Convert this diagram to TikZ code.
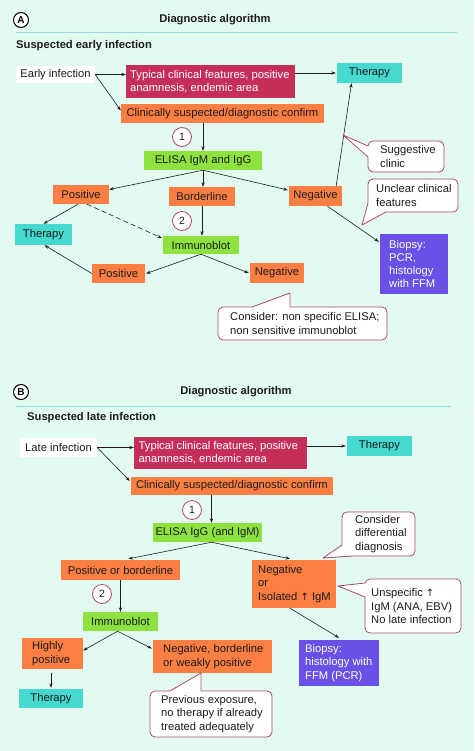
\documentclass[tikz,border=0pt]{standalone}
\usepackage{fontspec}
\setmainfont{Liberation Sans}
\newfontfamily\djv{DejaVu Sans}
\usetikzlibrary{arrows.meta,calc}
\definecolor{bgc}{RGB}{226,250,240}
\definecolor{crim}{RGB}{198,46,90}
\definecolor{orng}{RGB}{251,126,66}
\definecolor{grn}{RGB}{141,226,63}
\definecolor{turq}{RGB}{69,217,207}
\definecolor{purp}{RGB}{106,80,230}
\definecolor{mauve}{RGB}{170,72,112}
\definecolor{tline}{RGB}{150,220,222}
\definecolor{txt}{RGB}{28,28,28}
\newcommand\placebox[7]{\node[#2, minimum width={#5-#3}, minimum height={#6-#4}] (#1) at ({(#3+#5)/2},{(#4+#6)/2}) {#7};}
\newcommand\ctail[5]{%
  \fill[white] #1 -- #2 -- #3 -- #5 -- #4 -- cycle;
  \draw[mauve, line width=0.8pt, line join=round] #1 -- #2 -- #3;}
\begin{document}
\begin{tikzpicture}[x=1pt,y=-1pt,
  font=\fontsize{11.2}{13.3}\selectfont,
  box/.style={rectangle, inner sep=0pt, draw=none, text=txt},
  whbox/.style={box, fill=white},
  crbox/.style={box, fill=crim},
  orbox/.style={box, fill=orng},
  grbox/.style={box, fill=grn},
  tqbox/.style={box, fill=turq},
  pubox/.style={box, fill=purp},
  callout/.style={box, fill=white, draw=mauve, line width=0.8pt, rounded corners=5pt},
  lt/.style={anchor=west, align=left, inner sep=0pt, text=txt},
  numc/.style={circle, draw=mauve, line width=0.8pt, fill=white, inner sep=0pt, minimum size=19pt, font=\fontsize{10.5}{12}\selectfont, text=txt},
  letc/.style={circle, draw=black, line width=1pt, fill=white, inner sep=0pt, minimum size=15pt, font=\bfseries\fontsize{10}{11}\selectfont},
  ttl/.style={font=\bfseries\fontsize{11.2}{13}\selectfont, text=txt, inner sep=0pt},
  arr/.style={-{Stealth[length=4.5pt,width=3.2pt]}, line width=0.6pt, draw=txt},
  tlin/.style={draw=tline, line width=1pt}
]
\useasboundingbox (0,0) rectangle (474,751);
\fill[bgc] (0,0) rectangle (474,751);

% ================= Panel A =================
\node[letc] (circA) at (21,20) {A};
\node[ttl] (titleA) at (215,20) {Diagnostic algorithm};
\draw[tlin] (16,33) -- (457,33);
\node[ttl, anchor=west] (subA) at (16,46) {Suspected early infection};

\placebox{earlyA}{whbox}{16}{66}{95}{83}{Early infection}
\placebox{typA}{crbox}{126}{65}{295}{98}{}
\node[lt, text=white] (typAt) at (130,81.5) {Typical clinical features, positive\\anamnesis, endemic area};
\placebox{therA1}{tqbox}{337}{63}{402}{83}{Therapy}
\placebox{clinA}{orbox}{121}{104}{324}{123}{Clinically suspected/diagnostic confirm}
\node[numc] (c1A) at (182,137) {1};
\placebox{elisaA}{grbox}{144}{151}{262}{170}{ELISA IgM and IgG}
\placebox{posA}{orbox}{53}{185}{109}{204}{Positive}
\placebox{borA}{orbox}{169}{187}{235}{206}{Borderline}
\placebox{negA}{orbox}{289}{186}{342}{206}{Negative}
\placebox{therA2}{tqbox}{15}{224}{72}{245}{Therapy}
\node[numc] (c2A) at (182,221) {2};
\placebox{immA}{grbox}{163}{236}{239}{254}{Immunoblot}
\placebox{pos2A}{orbox}{92}{264}{145}{283}{Positive}
\placebox{neg2A}{orbox}{250}{263}{304}{283}{Negative}
\placebox{bioA}{pubox}{380}{234}{448}{294}{}
\node[lt, text=white] (bioAt) at (389,264) {Biopsy:\\PCR,\\histology\\with FFM};

% arrows A
\draw[arr] (earlyA.east) -- (earlyA.east -| typA.west);
\draw[arr] (earlyA.east) -- ([yshift=3pt]clinA.west);
\draw[arr] (therA1.west -| typA.east) -- ([xshift=-1pt]therA1.west);
\draw[arr] (elisaA.north |- clinA.south) -- (elisaA.north);
\draw[arr] (elisaA.south) -- ([yshift=5pt]posA.east);
\draw[arr] (elisaA.south) -- (elisaA.south |- borA.north);
\draw[arr] (elisaA.south) -- ([yshift=6pt, xshift=-1pt]negA.west);
\draw[arr] ([xshift=-6pt]negA.north east) -- ([xshift=-18pt]therA1.south);
\draw[arr] ([xshift=12pt]negA.south) -- ([yshift=-8pt, xshift=-1pt]bioA.north west);
\draw[arr] ([xshift=-3pt]posA.south) -- (therA2.north);
\draw[arr, dashed, dash pattern=on 5pt off 3pt] ([xshift=6pt]posA.south) -- ([yshift=7pt, xshift=-1pt]immA.west);
\draw[arr] (borA.south) -- (borA.south |- immA.north);
\draw[arr] (immA.south) -- ([xshift=1pt]pos2A.east);
\draw[arr] (immA.south) -- ([xshift=-1pt]neg2A.west);
\draw[arr] (pos2A.west) -- ([xshift=1pt]therA2.south);

% callouts A
\placebox{suggA}{callout}{368}{141}{444}{172}{}
\ctail{(368,146)}{(343,135)}{(368,157)}{(370,146)}{(370,157)}
\node[lt] (suggAt) at (380,156.5) {Suggestive\\clinic};
\placebox{unclA}{callout}{368}{179}{458}{212}{}
\ctail{(368,203)}{(362,225)}{(386,212)}{(370,203)}{(386,210)}
\node[lt] (unclAt) at (376,195.5) {Unclear clinical\\features};
\placebox{consA}{callout}{218}{307}{387}{340}{}
\ctail{(252,307)}{(290,293)}{(290,307)}{(252,309)}{(290,309)}
\node[lt] (consAt) at (230,323.5) {Consider: non specific ELISA;\\non sensitive immunoblot};

% ================= Panel B =================
\node[letc] (circB) at (21,392) {B};
\node[ttl] (titleB) at (236,392) {Diagnostic algorithm};
\draw[tlin] (16,406) -- (451,406);
\node[ttl, anchor=west] (subB) at (27,418) {Suspected late infection};

\placebox{lateB}{whbox}{20}{438}{97}{457}{Late infection}
\placebox{typB}{crbox}{134}{437}{307}{469}{}
\node[lt, text=white] (typBt) at (138.5,453) {Typical clinical features, positive\\anamnesis, endemic area};
\placebox{therB1}{tqbox}{347}{436}{412}{456}{Therapy}
\placebox{clinB}{orbox}{131}{477}{333}{495}{Clinically suspected/diagnostic confirm}
\node[numc] (c1B) at (192,510) {1};
\placebox{elisaB}{grbox}{153}{523}{262}{542}{ELISA IgG (and IgM)}
\placebox{pobB}{orbox}{61}{560}{180}{580}{Positive or borderline}
\placebox{negorB}{orbox}{252}{560}{336}{608}{}
\node[lt] (negorBt) at (258,584) {Negative\\or\\Isolated {\djv\fontsize{10}{12}\selectfont ↑} IgM};
\node[numc] (c2B) at (102,594) {2};
\placebox{immB}{grbox}{83}{612}{158}{631}{Immunoblot}
\placebox{hpB}{orbox}{22}{638}{83}{669}{}
\node[lt] (hpBt) at (32,653.5) {Highly\\positive};
\placebox{therB2}{tqbox}{19}{689}{83}{708}{Therapy}
\placebox{nbwB}{orbox}{153}{640}{272}{673}{}
\node[lt] (nbwBt) at (163,656.5) {Negative, borderline\\or weakly positive};
\placebox{bioB}{pubox}{299}{640}{379}{686}{}
\node[lt, text=white] (bioBt) at (305,663) {Biopsy:\\histology with\\FFM (PCR)};

% arrows B
\coordinate (eBn) at ([xshift=4pt]elisaB.north);
\coordinate (eBs) at ([xshift=4pt]elisaB.south);
\draw[arr] (lateB.east) -- (lateB.east -| typB.west);
\draw[arr] (lateB.east) -- ([yshift=5pt, xshift=-1pt]clinB.west);
\draw[arr] (therB1.west -| typB.east) -- ([xshift=-1pt]therB1.west);
\draw[arr] (eBn |- clinB.south) -- (eBn);
\draw[arr] (eBs) -- ([xshift=8pt, yshift=1pt]pobB.north);
\draw[arr] (eBs) -- ([xshift=-4pt, yshift=1pt]negorB.north);
\draw[arr] (pobB.south) -- (immB.north);
\draw[arr] ([xshift=-3pt]immB.south) -- ([yshift=3pt]hpB.east);
\draw[arr] ([xshift=-3pt]immB.south) -- ([yshift=8pt, xshift=-1pt]nbwB.west);
\draw[arr, shorten <=4pt] (therB2.north |- hpB.south) -- ([yshift=1pt]therB2.north);
\draw[arr] ([xshift=-4pt]negorB.south) -- ([yshift=2pt]bioB.north);

% callouts B
\placebox{ddB}{callout}{342}{512}{415}{556}{}
\ctail{(342,545)}{(323,558)}{(352,556)}{(344,545)}{(352,554)}
\node[lt] (ddBt) at (355,534) {Consider\\differential\\diagnosis};
\placebox{unsB}{callout}{365}{579}{461}{633}{}
\ctail{(365,583)}{(338,586)}{(365,597)}{(367,583)}{(367,597)}
\node[lt] (unsBt) at (371,606) {Unspecific {\djv\fontsize{10}{12}\selectfont ↑}\\IgM (ANA, EBV)\\No late infection};
\placebox{prevB}{callout}{150}{691}{272}{737}{}
\ctail{(170,691)}{(201,673)}{(201,691)}{(170,693)}{(201,693)}
\node[lt] (prevBt) at (161,714) {Previous exposure,\\no therapy if already\\treated adequately};
\end{tikzpicture}
\end{document}
